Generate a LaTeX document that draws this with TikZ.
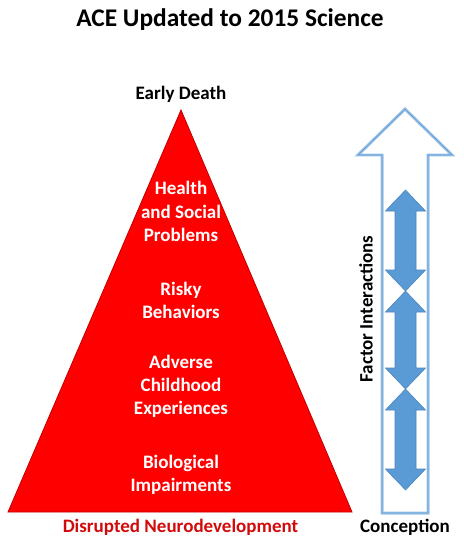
\documentclass[tikz,border=0pt]{standalone}
\usepackage{fontspec}
\setmainfont{Carlito}
\definecolor{tri}{HTML}{FF0000}
\definecolor{triedge}{HTML}{C00000}
\definecolor{darkred}{HTML}{D20A0A}
\definecolor{arrowblue}{HTML}{5B9BD5}
\definecolor{arrowedge}{HTML}{4A86C0}
\definecolor{outlineblue}{HTML}{9DC3E6}
\definecolor{outlinedark}{HTML}{5B9BD5}
\begin{document}
\begin{tikzpicture}[x=1bp,y=-1bp,
  lbl/.style={font=\bfseries\fontsize{19bp}{23bp}\selectfont, inner sep=0pt, anchor=base},
  inner/.style={lbl, text=white, align=center},
  dbl/.style={fill=arrowblue, draw=arrowedge, line width=0.6pt, line join=miter}]
\useasboundingbox (0,0) rectangle (464,540);
% title
\node[lbl, font=\bfseries\fontsize{25.4bp}{30bp}\selectfont] (title) at (230,27) {ACE Updated to 2015 Science};
% triangle
\coordinate (apex) at (181,110);
\coordinate (bl) at (8,512);
\coordinate (br) at (352,512);
\fill[tri] (apex) -- (br) -- (bl) -- cycle;
\draw[triedge, line width=0.8pt, line join=miter] (apex) -- (br) -- (bl) -- cycle;
\node[lbl] (early) at (181,100) {Early Death};
\node[lbl, text=darkred] (disrupted) at (180.5,532) {Disrupted Neurodevelopment};
% texts inside triangle
\node[inner] (h1) at (181,195) {Health};
\node[inner] (h2) at (181,218) {and Social};
\node[inner] (h3) at (181,241) {Problems};
\node[inner] (r1) at (181,295) {Risky};
\node[inner] (r2) at (181,318) {Behaviors};
\node[inner] (a1) at (181,368) {Adverse};
\node[inner] (a2) at (181,391) {Childhood};
\node[inner] (a3) at (181,414) {Experiences};
\node[inner] (b1) at (181,468) {Biological};
\node[inner] (b2) at (181,491) {Impairments};
% big hollow arrow
\path[draw=outlineblue, line width=3pt, line join=miter, fill=white]
  (405,109) -- (452,155) -- (428,155) -- (428,513) -- (382,513) -- (382,155) -- (358,155) -- cycle;
\draw[outlinedark, line width=0.6pt, line join=miter]
  (405,109) -- (452,155) -- (428,155) -- (428,513) -- (382,513) -- (382,155) -- (358,155) -- cycle;
% double arrows
\foreach \t/\b in {190/291, 291/389, 389/490}{
  \path[dbl] (405.5,\t) -- (425.5,\t+21) -- (416,\t+21) -- (416,\b-21) -- (425.5,\b-21)
    -- (405.5,\b) -- (385.5,\b-21) -- (395,\b-21) -- (395,\t+21) -- (385.5,\t+21) -- cycle;
}
\node[lbl, anchor=center, rotate=90] (factor) at (366,309) {Factor Interactions};
\node[lbl] (conception) at (405,532) {Conception};
\end{tikzpicture}
\end{document}
